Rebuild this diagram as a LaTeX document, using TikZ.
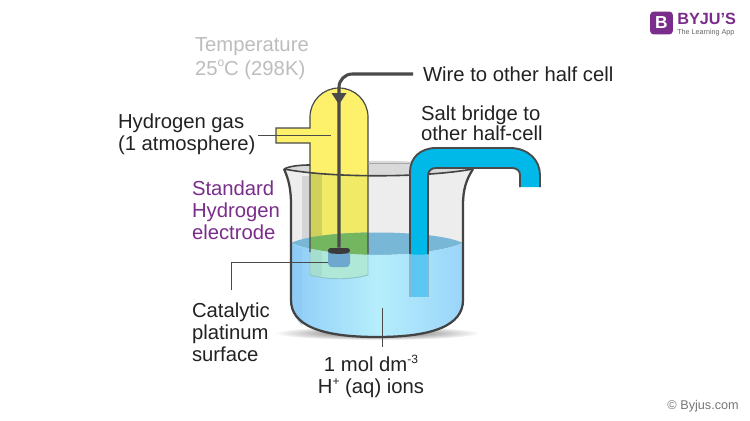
\documentclass[tikz,border=0pt]{standalone}
\usepackage{fontspec}
\setmainfont{Liberation Sans}
\definecolor{ink}{HTML}{222222}
\definecolor{line}{HTML}{4A4A4A}
\definecolor{purp}{HTML}{7B2D8B}
\definecolor{soft}{HTML}{BDBDBD}
\definecolor{cyanb}{HTML}{00B9E8}
\definecolor{rimback}{HTML}{D9D9D9}
\definecolor{rimline}{HTML}{A8A8A8}
\definecolor{glassc}{HTML}{EDEDED}
\definecolor{strip}{HTML}{D4D5D6}
\definecolor{yel}{HTML}{FDF06A}
\definecolor{yelin}{HTML}{F0EA66}
\definecolor{yelst}{HTML}{D0D05C}
\definecolor{surf}{HTML}{78B8D6}
\definecolor{grn}{HTML}{74B560}
\definecolor{wl}{HTML}{90CDF8}
\definecolor{wm}{HTML}{B6EEFB}
\definecolor{wr}{HTML}{9AD5FA}
\definecolor{wstrip}{HTML}{8CC9F4}
\definecolor{tubew}{HTML}{B0E8D8}
\definecolor{tubews}{HTML}{A5DDD0}
\definecolor{tubel}{HTML}{8FC3C8}
\definecolor{cyanw}{HTML}{5CC8F2}
\definecolor{cyanl}{HTML}{88B8D0}
\definecolor{ptc}{HTML}{6FA8CF}
\definecolor{ptd}{HTML}{3A3A3A}
\definecolor{tagc}{HTML}{666666}
\definecolor{crc}{HTML}{777777}
\newcommand{\upsm}[1]{\raisebox{0.42em}{\fontsize{9}{9}\selectfont #1}}
\tikzset{
  lab/.style={inner sep=0pt,outer sep=0pt,align=left,text=ink,font=\fontsize{15.2}{16.5}\selectfont},
  leader/.style={draw=line,line width=0.7pt},
  edge/.style={draw=line,line width=0.9pt},
  wire/.style={draw=line,line width=2.3pt},
}
\def\tubepath{(310,117) .. controls (310,101) and (323,88) .. (339,88) .. controls (355,88) and (368,101) .. (368,117) -- (368,275) .. controls (350,280) and (328,280) .. (310,275) -- (310,143) -- (276,143) -- (276,128) -- (310,128) -- cycle}
\def\glasspath{(284,169) .. controls (289,180) and (291,190) .. (291,205) -- (291,300) .. controls (291,325) and (320,337) .. (377,337) .. controls (434,337) and (463,325) .. (463,300) -- (463,205) .. controls (463,190) and (466,180) .. (473,169)}
\def\waterpath{(291,243) .. controls (330,259) and (424,259) .. (463,243) -- (463,300) .. controls (463,325) and (434,337) .. (377,337) .. controls (320,337) and (291,325) .. (291,300) -- cycle}
\def\surfpath{(291,243) .. controls (320,229) and (434,229) .. (463,243) .. controls (424,259) and (330,259) .. (291,243) -- cycle}
\def\glassinner{(284,169) .. controls (330,178) and (424,178) .. (473,169) .. controls (466,180) and (463,190) .. (463,205) -- (463,300) -- (291,300) -- (291,205) .. controls (291,190) and (289,180) .. (284,169) -- cycle}
\begin{document}
\begin{tikzpicture}[x=0.75pt,y=-0.75pt]
\useasboundingbox (0,0) rectangle (750,421);
\fill[white] (0,0) rectangle (750,421);
% shadow
\shade[inner color=black!65,outer color=white] (377,333) ellipse [x radius=103,y radius=7];
% back rim and glass
\fill[rimback] (284,169) .. controls (330,158) and (424,158) .. (473,169) .. controls (424,178) and (330,178) .. (284,169) -- cycle;
\fill[glassc] \glassinner;
\fill[strip] (302,176) -- (310,176) -- (310,250) -- (302,250) -- cycle;
% yellow tube above water
\fill[yel] \tubepath;
\begin{scope}
  \clip \tubepath;
  \fill[yelin] \glassinner;
  \begin{scope}
    \clip \glassinner;
    \fill[yelst] (310,170) rectangle (322,250);
  \end{scope}
\end{scope}
% water surface
\fill[surf] \surfpath;
\begin{scope}
  \clip \surfpath;
  \fill[grn] \tubepath;
\end{scope}
% water body
\shade[left color=wl,right color=wr,middle color=wm] \waterpath;
\fill[wstrip,opacity=.6] (291,245) -- (302,249) -- (302,326) .. controls (295,318) and (291,310) .. (291,300) -- cycle;
% tube under water
\begin{scope}
  \clip \waterpath;
  \fill[tubew] \tubepath;
  \fill[tubews] (310,240) rectangle (322,276);
\end{scope}
\draw[draw=tubel,line width=0.7pt] (310,252) -- (310,275) .. controls (328,280) and (350,280) .. (368,275) -- (368,252);
% tube outline above water
\draw[edge] (310,252) -- (310,143) -- (276,143) -- (276,128) -- (310,128) -- (310,117) .. controls (310,101) and (323,88) .. (339,88) .. controls (355,88) and (368,101) .. (368,117) -- (368,254);
% electrode
\node[draw=none,fill=ptc,rounded corners=3pt,minimum width=16.5pt,minimum height=14.5pt,inner sep=0pt] (pt) at (339,257.5) {};
\fill[ptd,rounded corners=2pt] (328,253) -- (328,248) -- (350,248) -- (350,253) .. controls (343,254) and (335,254) .. (328,253) -- cycle;
% glass outline
\draw[draw=ink!85,line width=1.7pt] \glasspath;
\draw[draw=ink!85,line width=1.2pt] (284,169) .. controls (330,178) and (424,178) .. (473,169);
\draw[draw=ink!85,line width=1.2pt] (284,169) .. controls (290,166) and (300,165) .. (310,165);
\draw[draw=rimline,line width=0.7pt] (368,163) -- (410,163);
% salt bridge
\fill[cyanw] (410,252) rectangle (428,297);
\draw[cyanl,line width=0.9pt] (410,254) -- (410,297) (428,254) -- (428,297);
\fill[cyanb] (410,254) -- (410,172) .. controls (410,158) and (420,148) .. (436,148) -- (510,148) .. controls (528,148) and (540,160) .. (540,175) -- (540,187) -- (520,187) -- (520,175) .. controls (520,171) and (517,168) .. (512,168) -- (436,168) .. controls (431,168) and (428,171) .. (428,176) -- (428,254) .. controls (422,255) and (416,255) .. (410,254) -- cycle;
\draw[draw=line,line width=1.4pt] (410,254) -- (410,172) .. controls (410,158) and (420,148) .. (436,148) -- (510,148) .. controls (528,148) and (540,160) .. (540,175) -- (540,187);
\draw[draw=line,line width=1.4pt] (520,187) -- (520,175) .. controls (520,171) and (517,168) .. (512,168) -- (436,168) .. controls (431,168) and (428,171) .. (428,176) -- (428,254);
% labels
\node[lab,anchor=base west,text=soft] (temp1) at (195,51) {Temperature};
\node[lab,anchor=base west,text=soft] (temp2) at (195,75) {25\upsm{o}C (298K)};
\node[lab,anchor=west] (wt) at (423,74) {Wire to other half cell};
\node[lab,anchor=north west,font=\fontsize{15.2}{13.5}\selectfont] (sb) at (421,106) {Salt bridge to\\other half-cell};
\node[lab,anchor=north west] (hg) at (118,114) {Hydrogen gas\\(1 atmosphere)};
\node[lab,anchor=north west,text=purp] (she) at (192,181) {Standard\\Hydrogen\\electrode};
\node[lab,anchor=north west] (cat) at (192,303) {Catalytic\\platinum\\surface};
\node[lab,anchor=north,align=center] (ions) at (371,355) {1 mol dm\upsm{-3}\\H\upsm{+} (aq) ions};
% connectors
\coordinate (hgs) at (258,135);
\coordinate (hgt) at (331,135);
\draw[leader] (hgs) -- (hgt);
\coordinate (cattop) at (231,290);
\draw[leader] (cattop) -- (231,262) -- (pt.west |- 0,262);
\coordinate (iontop) at (382,308);
\coordinate (ionbot) at (382,347);
\draw[leader] (iontop) -- (ionbot);
\draw[wire,rounded corners=10pt] (413,74) -- (339,74) -- (pt.north);
\fill[line] (331.5,93) -- (346.5,93) -- (339,104.5) -- cycle;
% logo
\node[fill=purp,rounded corners=2.5pt,minimum width=17pt,minimum height=17pt,inner sep=0pt,text=white,font=\fontsize{13}{13}\bfseries\selectfont] (logo) at (661.5,23) {B};
\node[inner sep=0pt,anchor=base west,text=purp,font=\fontsize{12.2}{13}\bfseries\selectfont] (brand) at (677,25) {BYJU'S};
\node[inner sep=0pt,anchor=base west,text=tagc,font=\fontsize{5.4}{6}\selectfont] (tag) at (677,34.5) {The Learning App};
\node[inner sep=0pt,anchor=base east,text=crc,font=\fontsize{9.5}{10}\selectfont] (cr) at (739,409) {© Byjus.com};
\end{tikzpicture}
\end{document}
